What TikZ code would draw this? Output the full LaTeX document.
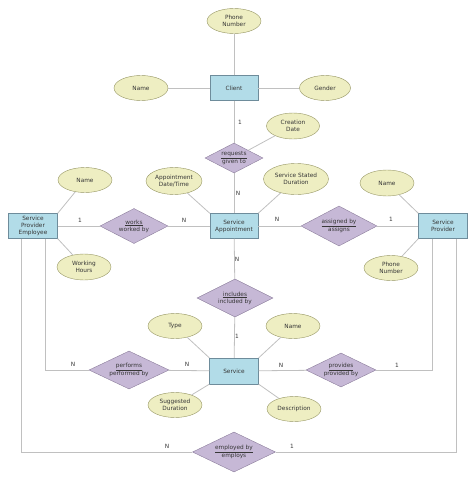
\documentclass[tikz,border=0pt]{standalone}
\usepackage{fontspec}
\setmainfont{DejaVu Sans}
\usetikzlibrary{shapes.geometric}
\definecolor{entfill}{RGB}{178,220,232}
\definecolor{entline}{RGB}{110,140,155}
\definecolor{attrfill}{RGB}{238,238,194}
\definecolor{attrline}{RGB}{150,150,100}
\definecolor{relfill}{RGB}{198,184,214}
\definecolor{relline}{RGB}{140,125,155}
\definecolor{linkgray}{RGB}{192,192,192}
\definecolor{txtgray}{RGB}{55,55,55}
\tikzset{
	entity/.style={draw=entline, fill=entfill, minimum width=48pt, minimum height=25pt, inner sep=1pt, align=center, text=txtgray, font=\fontsize{5.8}{7}\selectfont},
	attr/.style={ellipse, draw=attrline, fill=attrfill, minimum width=54pt, minimum height=25pt, inner sep=0pt, align=center, text=txtgray, font=\fontsize{5.8}{7}\selectfont},
	rel/.style={diamond, aspect=2, draw=relline, fill=relfill, inner sep=0pt, align=center, text=txtgray, font=\fontsize{5.8}{7}\selectfont},
	link/.style={draw=linkgray, line width=0.8pt},
	card/.style={text=txtgray, font=\fontsize{5.8}{7}\selectfont, inner sep=0pt}
}

\begin{document}
\begin{tikzpicture}[x=1pt, y=-1pt]
		\useasboundingbox (0, 0) rectangle (474, 479);
		%%%%% ENTITIES %%%%%
		\node[entity] (client) at (234, 88) {Client};
		\node[entity] (appt) at (234, 226) {Service\\Appointment};
		\node[entity, minimum width=49pt] (spe) at (33, 226) {Service\\Provider\\Employee};
		\node[entity, minimum width=49pt] (sp) at (443, 226) {Service\\Provider};
		\node[entity, minimum width=49pt, minimum height=26pt] (service) at (234, 371) {Service};
		
		%%%%% ATTRIBUTES %%%%%
		\node[attr] (cphone) at (234, 21) {Phone\\Number};
		\node[attr] (cname) at (141, 88) {Name};
		\node[attr, minimum width=51pt] (cgender) at (325, 88) {Gender};
		\node[attr, minimum width=53pt, minimum height=26pt] (cdate) at (293, 126) {Creation\\Date};
		\node[attr, minimum width=56pt, minimum height=27pt] (adate) at (174, 181) {Appointment\\Date/Time};
		\node[attr, minimum width=65pt, minimum height=31pt] (sdur) at (296, 179) {Service Stated\\Duration};
		\node[attr] (ename) at (85, 180) {Name};
		\node[attr, minimum height=26pt] (ehours) at (84, 267) {Working\\Hours};
		\node[attr, minimum height=26pt] (pname) at (387, 183) {Name};
		\node[attr, minimum height=25pt] (pphone) at (391, 268) {Phone\\Number};
		\node[attr] (stype) at (175, 326) {Type};
		\node[attr] (sname) at (293, 326) {Name};
		\node[attr] (sdurat) at (175, 405) {Suggested\\Duration};
		\node[attr] (sdesc) at (294, 409) {Description};
		
		%%%%% RELATIONSHIPS %%%%%
		\node[rel, minimum width=58pt, minimum height=30pt] (requests) at (234, 158) {\underline{requests}\\given to};
		\node[rel, minimum width=68pt, minimum height=35pt] (works) at (134, 226) {\underline{works}\\worked by};
		\node[rel, minimum width=76pt, minimum height=40pt] (assigned) at (339, 226) {\underline{assigned by}\\assigns};
		\node[rel, minimum width=76pt, minimum height=38pt] (includes) at (235, 298) {\underline{includes}\\included by};
		\node[rel, minimum width=80pt, minimum height=38pt] (performs) at (129, 370) {\underline{performs}\\performed by};
		\node[rel, minimum width=70pt, minimum height=34pt] (provides) at (341, 370) {\underline{provides}\\provided by};
		\node[rel, minimum width=83pt, minimum height=40pt] (employed) at (234, 452) {\underline{employed by}\\employs};
		
		%%%%% LINKS %%%%%
		\draw[link] (client) -- (cphone);
		\draw[link] (client) -- (cname);
		\draw[link] (client) -- (cgender);
		\draw[link] (client) -- (requests);
		\draw[link] (requests) -- (cdate);
		\draw[link] (requests) -- (appt);
		\draw[link] (appt.north west) -- (adate);
		\draw[link] (appt.north east) -- (sdur);
		\draw[link] (spe.north east) -- (ename);
		\draw[link] (spe.south east) -- (ehours);
		\draw[link] (sp.north west) -- (pname);
		\draw[link] (sp.south west) -- (pphone);
		\draw[link] (spe) -- (works);
		\draw[link] (works) -- (appt);
		\draw[link] (appt) -- (assigned);
		\draw[link] (assigned) -- (sp);
		\draw[link] (appt) -- (includes);
		\draw[link] (includes) -- (service);
		\draw[link] (service.north west) -- (stype);
		\draw[link] (service.north east) -- (sname);
		\draw[link] (service.south west) -- (sdurat);
		\draw[link] (service.south east) -- (sdesc);
		\draw[link] (performs) -- (service);
		\draw[link] (service) -- (provides);
		\draw[link] ([xshift=12pt]spe.south) |- (performs.west);
		\draw[link] ([xshift=-12pt]spe.south) |- (employed.west);
		\draw[link] ([xshift=-11pt]sp.south) |- (provides.east);
		\draw[link] ([xshift=13pt]sp.south) |- (employed.east);
		
		%%%%% CARDINALITIES %%%%%
		\node[card] (c1) at (240, 122) {1};
		\node[card] (c2) at (238, 193) {N};
		\node[card] (c3) at (80, 220) {1};
		\node[card] (c4) at (184, 220) {N};
		\node[card] (c5) at (277, 219) {N};
		\node[card] (c6) at (391, 219) {1};
		\node[card] (c7) at (237, 259) {N};
		\node[card] (c8) at (237, 336) {1};
		\node[card] (c9) at (73, 364) {N};
		\node[card] (c10) at (187, 364) {N};
		\node[card] (c11) at (281, 365) {N};
		\node[card] (c12) at (397, 365) {1};
		\node[card] (c13) at (167, 446) {N};
		\node[card] (c14) at (292, 446) {1};
	\end{tikzpicture}
\end{document}
